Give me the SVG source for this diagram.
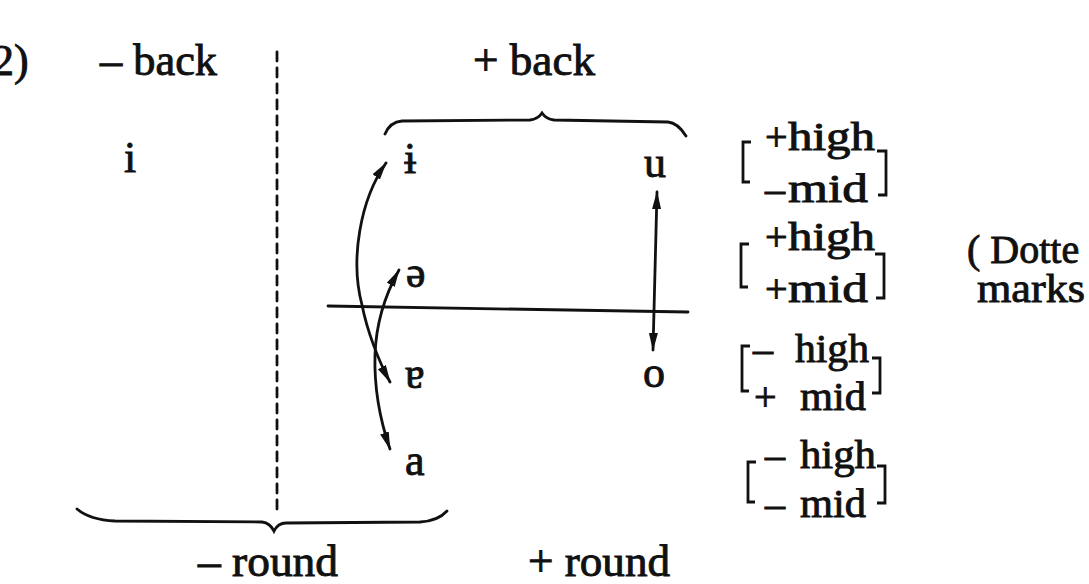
<svg xmlns="http://www.w3.org/2000/svg" width="1089" height="584" viewBox="0 0 1089 584">
<style>
text{font-family:"Liberation Serif","Times New Roman",serif;font-size:44px;fill:#111;stroke:#111;stroke-width:0.9}
.s{font-size:40px}
.ln{fill:none;stroke:#111;stroke-width:2.8;stroke-linecap:round}
.br{fill:none;stroke:#111;stroke-width:2.8}
</style>
<defs>
<marker id="ah" viewBox="0 0 18 10" refX="17" refY="5" markerWidth="18" markerHeight="10" markerUnits="userSpaceOnUse" orient="auto-start-reverse">
<path d="M0,0.5 L18,5 L0,9.5 Z" fill="#111"/>
</marker>
</defs>
<rect width="1089" height="584" fill="#fff"/>

<g id="labels">
<text x="-8" y="75">2)</text>
<text x="100" y="75" textLength="117" lengthAdjust="spacingAndGlyphs">– back</text>
<text x="473" y="75" textLength="122" lengthAdjust="spacingAndGlyphs">+ back</text>
<text x="198" y="576" textLength="140" lengthAdjust="spacingAndGlyphs">– round</text>
<text x="528" y="576" textLength="142" lengthAdjust="spacingAndGlyphs">+ round</text>
<text class="s" x="967" y="263">( Dotte</text>
<text class="s" x="977" y="302" textLength="108" lengthAdjust="spacingAndGlyphs">marks</text>
</g>

<g id="vowels">
<text id="v-i" x="124" y="172">i</text>
<text id="v-ibar" x="404" y="173">ɨ</text>
<text id="v-u" x="644" y="177">u</text>
<text id="v-schwa" x="406" y="287">ə</text>
<text id="v-turned-a" x="405" y="388">ɐ</text>
<text id="v-o" x="643" y="387">o</text>
<text id="v-a" x="405" y="475">a</text>
</g>

<g id="features">
<g id="f1">
<text class="s" x="765" y="150">+</text><text class="s" x="788" y="150" textLength="87" lengthAdjust="spacingAndGlyphs">high</text>
<text class="s" x="765" y="202">–</text><text class="s" x="788" y="202" textLength="80" lengthAdjust="spacingAndGlyphs">mid</text>
<path class="br" d="M751,142 H743 V182 H750 M877,151 H886 V195 H878"/>
</g>
<g id="f2">
<text class="s" x="765" y="250">+</text><text class="s" x="788" y="250" textLength="87" lengthAdjust="spacingAndGlyphs">high</text>
<text class="s" x="765" y="302">+</text><text class="s" x="788" y="302" textLength="80" lengthAdjust="spacingAndGlyphs">mid</text>
<path class="br" d="M749,244 H741 V287 H748 M875,254 H884 V298 H876"/>
</g>
<g id="f3">
<text class="s" x="753" y="362">–</text><text class="s" x="795" y="362" textLength="74" lengthAdjust="spacingAndGlyphs">high</text>
<text class="s" x="754" y="410">+</text><text class="s" x="800" y="410" textLength="66" lengthAdjust="spacingAndGlyphs">mid</text>
<path class="br" d="M750,346 H742 V391 H749 M872,358 H880 V393 H872"/>
</g>
<g id="f4">
<text class="s" x="765" y="468">–</text><text class="s" x="800" y="468" textLength="76" lengthAdjust="spacingAndGlyphs">high</text>
<text class="s" x="765" y="517">–</text><text class="s" x="800" y="517" textLength="66" lengthAdjust="spacingAndGlyphs">mid</text>
<path class="br" d="M756,462 H748 V502 H755 M877,466 H885 V503 H877"/>
</g>
</g>

<g id="connectors">
<line class="ln" x1="277" y1="52" x2="277" y2="516" stroke-dasharray="9 7" stroke-width="3" stroke-linecap="butt"/>
<path class="ln" d="M385,134 Q390,122 402,121 L530,120 Q538,119 542,113 Q546,119 554,120 L668,122 Q678,123 686,136"/>
<path class="ln" d="M77,509 Q90,520 115,521 L262,522 Q270,523 274,531 Q278,523 286,523 L420,522 Q438,521 447,511"/>
<line class="ln" x1="328" y1="306" x2="688" y2="312" stroke-width="2.4"/>
<line class="ln" x1="657" y1="192" x2="653" y2="350" marker-start="url(#ah)" marker-end="url(#ah)"/>
<path class="ln" d="M386,163 C360,200 350,260 362,305 C367,330 378,360 390,382" marker-start="url(#ah)" marker-end="url(#ah)"/>
<path class="ln" d="M399,270 C385,295 376,325 375,355 C374,390 380,420 390,449" marker-start="url(#ah)" marker-end="url(#ah)"/>
</g>
</svg>
